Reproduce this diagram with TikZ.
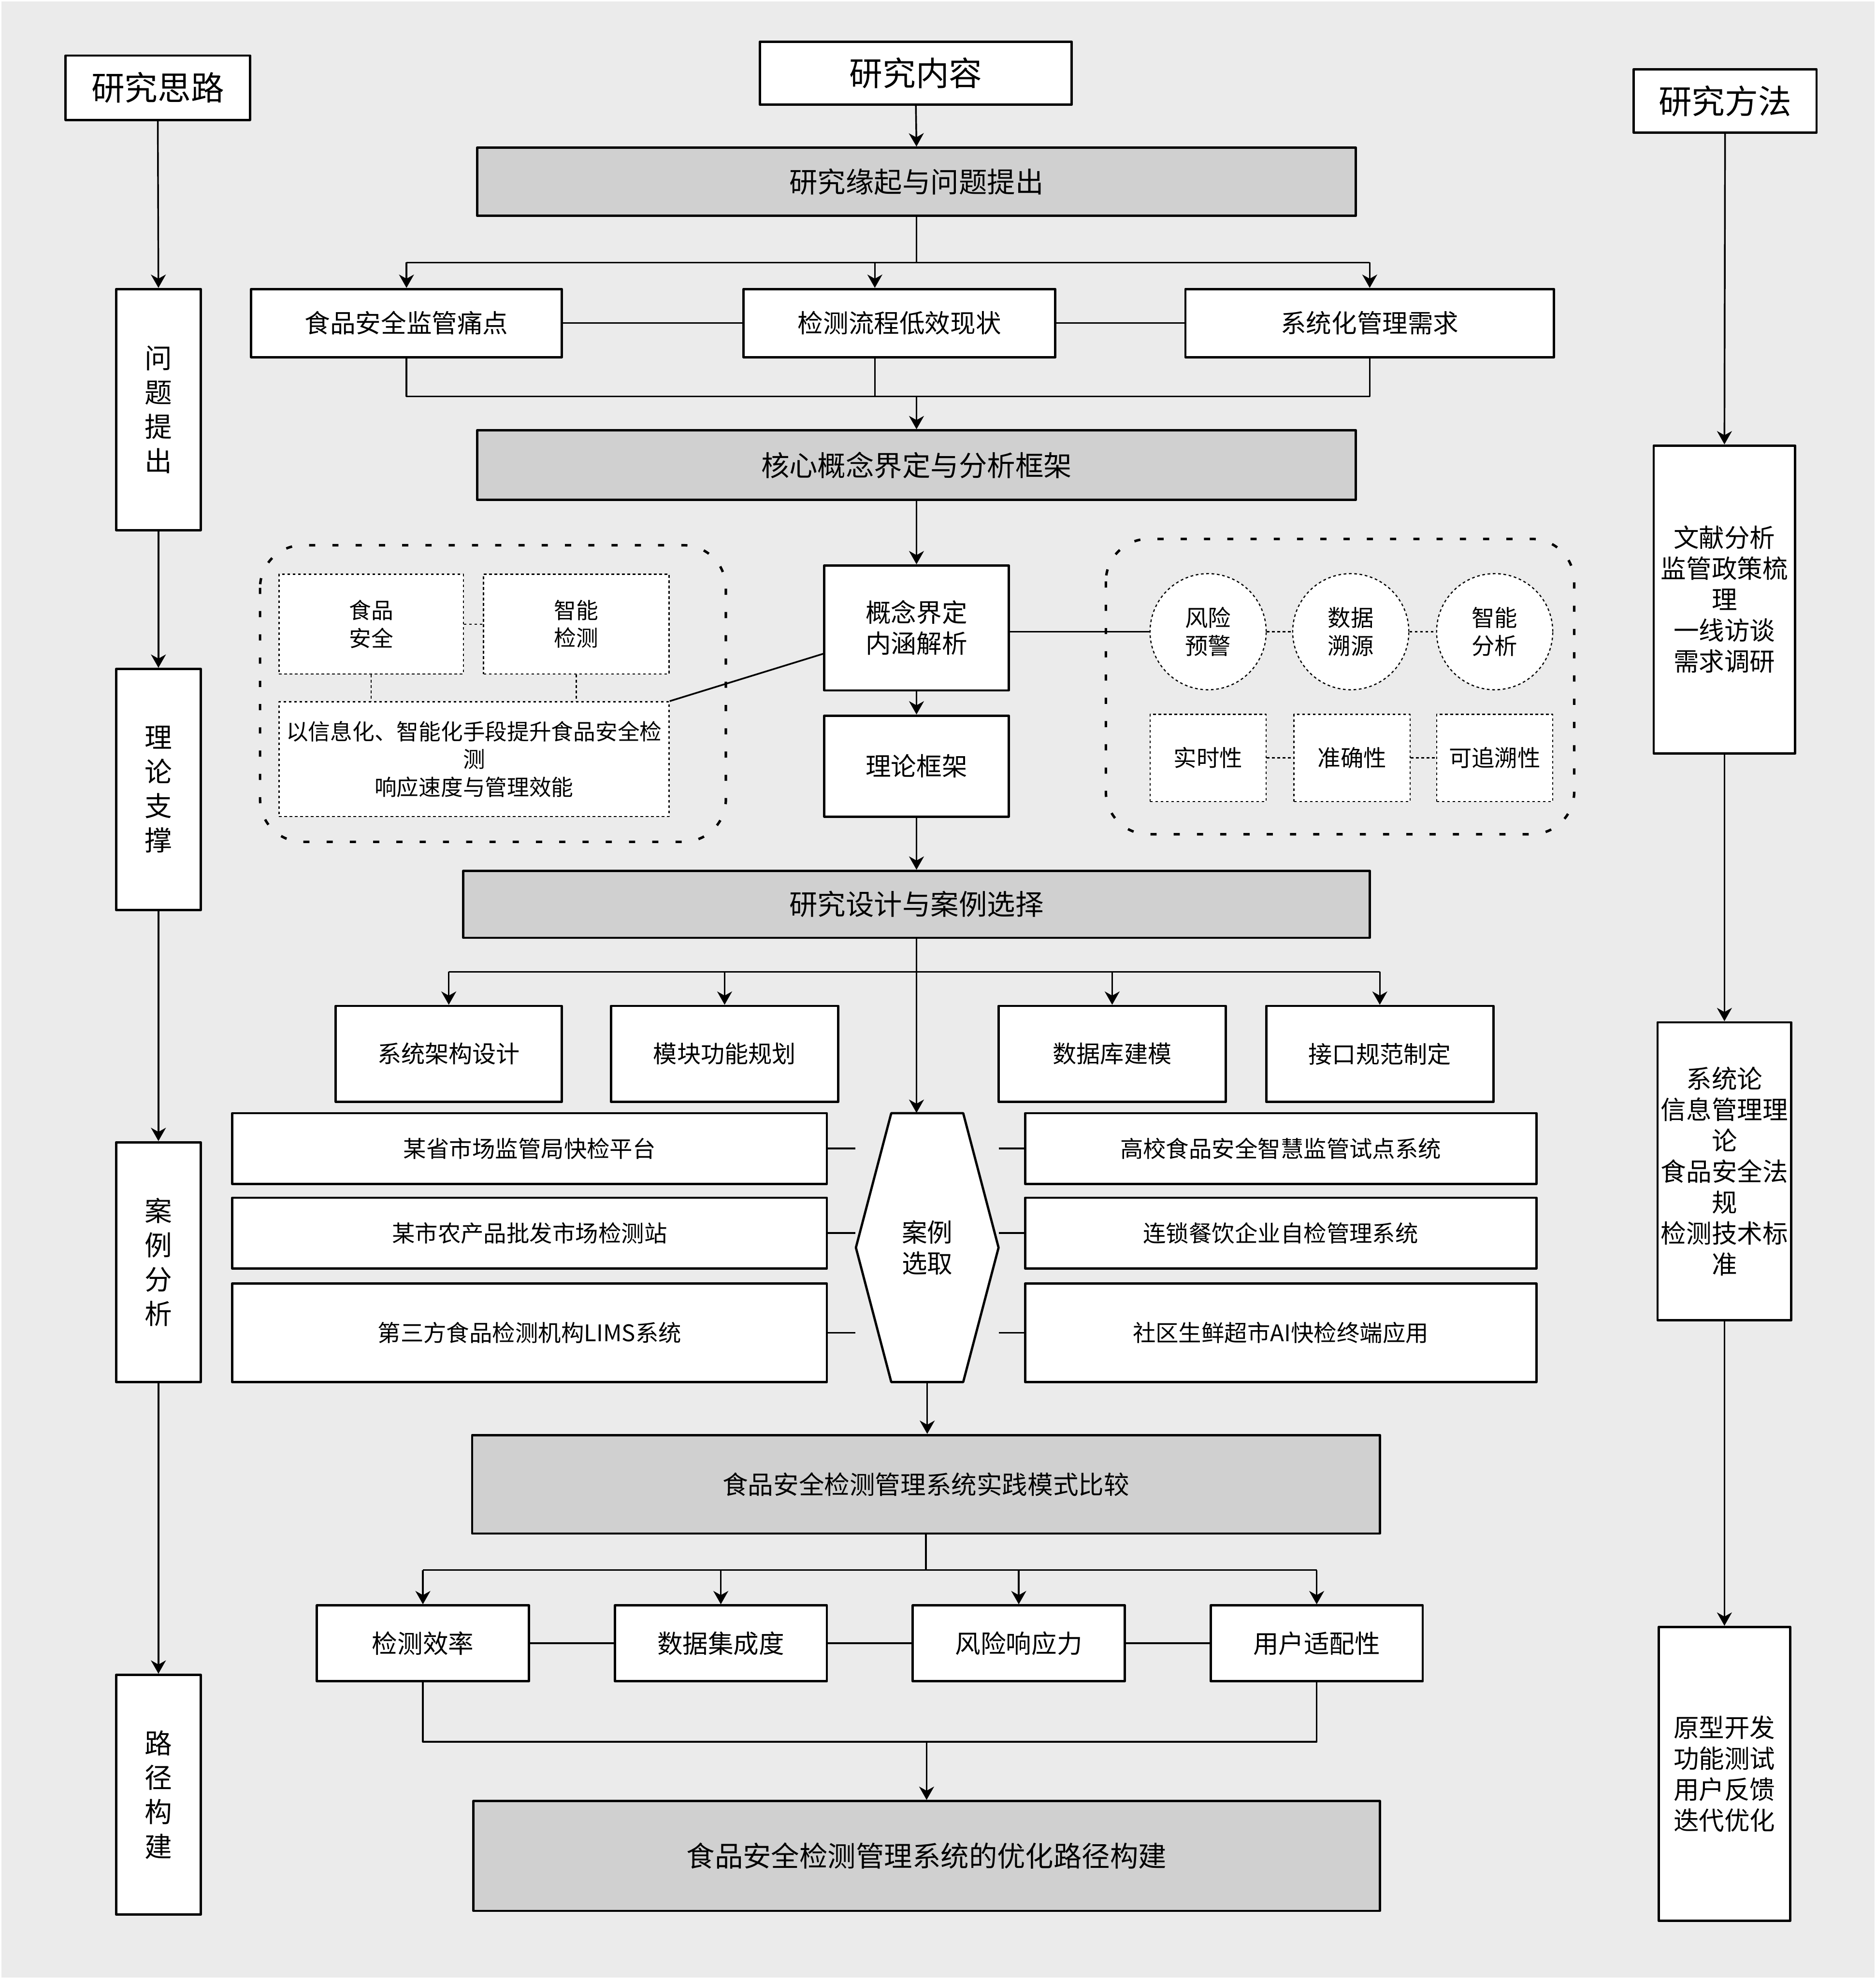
\documentclass[tikz,border=0pt]{standalone}
\usepackage{fontspec}
\setmainfont{Noto Sans CJK SC}
\usepackage{tikz}
\usetikzlibrary{arrows.meta}
\def\pxu{0.02671cm}
\definecolor{bggray}{RGB}{235,235,235}
\definecolor{boxgray}{RGB}{208,208,208}
\tikzset{
  every picture/.style={line join=round, >={Stealth[length=8pt,width=9pt,inset=2.5pt]}},
  box/.style={draw, line width=1.4pt, fill=white, inner sep=0pt, align=center},
  mainbox/.style={box, fill=boxgray},
  wh/.style 2 args={minimum width=#1*\pxu, minimum height=#2*\pxu},
  dotbox/.style={draw, line width=0.7pt, dash pattern=on 1.6pt off 1.6pt, fill=white, inner sep=0pt, align=center},
  dotline/.style={line width=0.7pt, dash pattern=on 1.6pt off 1.6pt},
  group/.style={line width=1.5pt, dash pattern=on 3.7pt off 10.3pt, rounded corners=0.9cm},
  link/.style={line width=1pt},
  arr/.style={link, ->},
  headtext/.style={font=\fontsize{20}{24}\selectfont},
  bigtext/.style={font=\fontsize{17}{20.4}\selectfont},
  midtext/.style={font=\fontsize{15.3}{18.6}\selectfont},
  smalltext/.style={font=\fontsize{13.8}{16.7}\selectfont},
  tinytext/.style={font=\fontsize{13.3}{16.7}\selectfont},
  verttext/.style={font=\fontsize{16.5}{20.7}\selectfont},
}

\begin{document}
\begin{tikzpicture}[x=0.02671cm, y=-0.02671cm]
\useasboundingbox (0,0) rectangle (1486,1568);
\fill[white] (0,0) rectangle (1486,1568);
\fill[bggray] (1,1) rectangle (1485,1567);

\node[box, headtext, wh={146}{51}] (sl) at (125,69.5) {研究思路};
\node[box, verttext, wh={67}{191}] (l1) at (125.5,324.5) {问\\题\\提\\出};
\node[box, verttext, wh={67}{191}] (l2) at (125.5,625.5) {理\\论\\支\\撑};
\node[box, verttext, wh={67}{190}] (l3) at (125.5,1000) {案\\例\\分\\析};
\node[box, verttext, wh={67}{190}] (l4) at (125.5,1422) {路\\径\\构\\建};
\draw[arr] (sl.south) -- (l1.north);
\draw[arr] (l1.south) -- (l2.north);
\draw[arr] (l2.south) -- (l3.north);
\draw[arr] (l3.south) -- (l4.north);

\node[box, headtext, wh={145}{50}] (sr) at (1366.5,80) {研究方法};
\node[box, midtext, wh={112}{244}] (r1) at (1366,475) {文献分析\\监管政策梳\\理\\一线访谈\\需求调研};
\node[box, midtext, wh={106}{236}] (r2) at (1366,928) {系统论\\信息管理理\\论\\食品安全法\\规\\检测技术标\\准};
\node[box, midtext, wh={104}{233}] (r3) at (1366,1405.5) {原型开发\\功能测试\\用户反馈\\迭代优化};
\draw[arr] (sr.south) -- (r1.north);
\draw[arr] (r1.south) -- (r2.north);
\draw[arr] (r2.south) -- (r3.north);

\node[box, headtext, wh={247}{50}] (top) at (725.5,58) {研究内容};
\node[mainbox, bigtext, wh={696}{54}] (m1) at (726,144) {研究缘起与问题提出};
\draw[arr] (top.south) -- (m1.north);

\node[box, midtext, wh={246}{54}] (p1) at (322,256) {食品安全监管痛点};
\node[box, midtext, wh={247}{54}] (p2) at (712.5,256) {检测流程低效现状};
\node[box, midtext, wh={292}{54}] (p3) at (1085,256) {系统化管理需求};
\coordinate (p2n) at ([xshift=-19.5*\pxu]p2.north);
\coordinate (p2s) at ([xshift=-19.5*\pxu]p2.south);
\coordinate (bt) at (0,208);
\coordinate (bb) at (0,314);
\draw[link] (m1.south) -- (m1.south |- bt);
\draw[link] (p1.north |- bt) -- (p3.north |- bt);
\draw[arr] (p1.north |- bt) -- (p1.north);
\draw[arr] (p2n |- bt) -- (p2n);
\draw[arr] (p3.north |- bt) -- (p3.north);
\draw[link] (p1.east) -- (p2.west);
\draw[link] (p2.east) -- (p3.west);
\draw[link] (p1.south) -- (p1.south |- bb) -- (p3.south |- bb) -- (p3.south);
\draw[link] (p2s) -- (p2s |- bb);

\node[mainbox, bigtext, wh={696}{55}] (m2) at (726,368.5) {核心概念界定与分析框架};
\draw[arr] (m2.north |- bb) -- (m2.north);

\node[box, midtext, wh={146}{99}] (c0) at (726,497.5) {概念界定\\内涵解析};
\node[box, midtext, wh={146}{80}] (c1) at (726,607) {理论框架};
\draw[arr] (m2.south) -- (c0.north);
\draw[arr] (c0.south) -- (c1.north);

\draw[group] (206,432) rectangle (575,667);
\node[dotbox, tinytext, wh={146}{79}] (d1) at (294,494.5) {食品\\安全};
\node[dotbox, tinytext, wh={147}{79}] (d2) at (456.5,494.5) {智能\\检测};
\node[dotbox, tinytext, wh={309}{91}] (d3) at (375.5,601.5) {以信息化、智能化手段提升食品安全检\\测\\响应速度与管理效能};
\draw[dotline] (d1.east) -- (d2.west);
\draw[dotline] (d1.south) -- (d1.south |- d3.north);
\draw[dotline] (d2.south) -- (d2.south |- d3.north);
\draw[link] ([yshift=-20.5*\pxu]c0.west) -- (d3.north east);

\draw[group] (876,427) rectangle (1247,661);
\node[dotbox, smalltext, circle, minimum size=92*\pxu] (e1) at (957,500.5) {风险\\预警};
\node[dotbox, smalltext, circle, minimum size=92*\pxu] (e2) at (1070,500.5) {数据\\溯源};
\node[dotbox, smalltext, circle, minimum size=92*\pxu] (e3) at (1184,500.5) {智能\\分析};
\node[dotbox, smalltext, wh={92}{69}] (f1) at (957,600.5) {实时性};
\node[dotbox, smalltext, wh={92}{69}] (f2) at (1071,600.5) {准确性};
\node[dotbox, smalltext, wh={92}{69}] (f3) at (1184,600.5) {可追溯性};
\draw[dotline] (e1.east) -- (e2.west);
\draw[dotline] (e2.east) -- (e3.west);
\draw[dotline] (f1.east) -- (f2.west);
\draw[dotline] (f2.east) -- (f3.west);
\draw[link] (c0.east |- e1.west) -- (e1.west);

\node[mainbox, bigtext, wh={718}{53}] (m3) at (726,716.5) {研究设计与案例选择};
\draw[arr] (c1.south) -- (m3.north);

\node[box, font=\fontsize{14.3}{17}\selectfont, wh={179}{76}] (s1) at (355.5,835) {系统架构设计};
\node[box, font=\fontsize{14.3}{17}\selectfont, wh={180}{76}] (s2) at (574,835) {模块功能规划};
\node[box, font=\fontsize{14.3}{17}\selectfont, wh={180}{76}] (s3) at (881,835) {数据库建模};
\node[box, font=\fontsize{14.3}{17}\selectfont, wh={180}{76}] (s4) at (1093,835) {接口规范制定};
\coordinate (bs) at (0,770);
\draw[link] (s1.north |- bs) -- (s4.north |- bs);
\draw[arr] (s1.north |- bs) -- (s1.north);
\draw[arr] (s2.north |- bs) -- (s2.north);
\draw[arr] (s3.north |- bs) -- (s3.north);
\draw[arr] (s4.north |- bs) -- (s4.north);

\filldraw[fill=white, line width=1.4pt] (706,882) -- (763,882) -- (791,988.5) -- (763,1095) -- (706,1095) -- (678,988.5) -- cycle;
\node[midtext, align=center, inner sep=0pt, wh={113}{213}] (hex) at (734.5,988.5) {案例\\选取};
\draw[arr] (m3.south) -- (m3.south |- hex.north);

\node[box, smalltext, wh={471}{56}] (a1) at (419.5,910) {某省市场监管局快检平台};
\node[box, smalltext, wh={471}{56}] (a2) at (419.5,977) {某市农产品批发市场检测站};
\node[box, smalltext, wh={471}{78}] (a3) at (419.5,1056) {第三方食品检测机构LIMS系统};
\node[box, smalltext, wh={405}{56}] (b1) at (1014.5,910) {高校食品安全智慧监管试点系统};
\node[box, smalltext, wh={405}{56}] (b2) at (1014.5,977) {连锁餐饮企业自检管理系统};
\node[box, smalltext, wh={405}{78}] (b3) at (1014.5,1056) {社区生鲜超市AI快检终端应用};
\draw[link] (a1.east) -- (hex.west |- a1.east);
\draw[link] (a2.east) -- (hex.west |- a2.east);
\draw[link] (a3.east) -- (hex.west |- a3.east);
\draw[link] (b1.west) -- (hex.east |- b1.west);
\draw[link] (b2.west) -- (hex.east |- b2.west);
\draw[link] (b3.west) -- (hex.east |- b3.west);

\node[mainbox, midtext, wh={719}{78}] (m4) at (733.5,1176) {食品安全检测管理系统实践模式比较};
\draw[arr] (hex.south) -- (hex.south |- m4.north);

\node[box, midtext, wh={168}{60}] (q1) at (335,1302) {检测效率};
\node[box, midtext, wh={168}{60}] (q2) at (571,1302) {数据集成度};
\node[box, midtext, wh={168}{60}] (q3) at (807,1302) {风险响应力};
\node[box, midtext, wh={168}{60}] (q4) at (1043,1302) {用户适配性};
\coordinate (bq) at (0,1244);
\coordinate (br) at (0,1380);
\draw[link] (m4.south) -- (m4.south |- bq);
\draw[link] (q1.north |- bq) -- (q4.north |- bq);
\draw[arr] (q1.north |- bq) -- (q1.north);
\draw[arr] (q2.north |- bq) -- (q2.north);
\draw[arr] (q3.north |- bq) -- (q3.north);
\draw[arr] (q4.north |- bq) -- (q4.north);
\draw[link] (q1.east) -- (q2.west);
\draw[link] (q2.east) -- (q3.west);
\draw[link] (q3.east) -- (q4.west);
\draw[link] (q1.south) -- (q1.south |- br) -- (q4.south |- br) -- (q4.south);

\node[mainbox, bigtext, wh={718}{87}] (m5) at (734,1470.5) {食品安全检测管理系统的优化路径构建};
\draw[arr] (m5.north |- br) -- (m5.north);
\end{tikzpicture}
\end{document}
